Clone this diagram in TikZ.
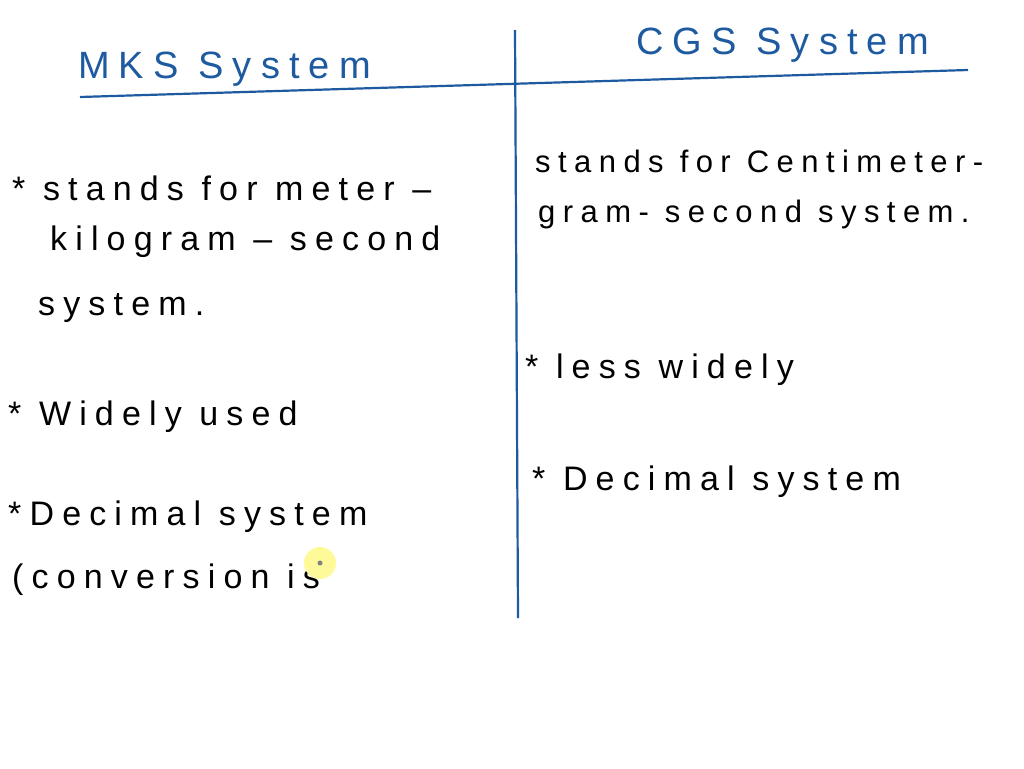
\documentclass[tikz,border=0pt]{standalone}
\usepackage{fontspec}
\setmainfont{Liberation Sans}[LetterSpace=24]
\definecolor{penblue}{RGB}{30,90,160}
\begin{document}
\begin{tikzpicture}[x=1pt,y=-1pt,
  txt/.style={anchor=base west,inner sep=0pt,font=\fontsize{34}{40}\selectfont},
  head/.style={txt,text=penblue,font=\fontsize{38}{44}\selectfont},
  ink/.style={line width=2.2pt,draw=penblue}]
\useasboundingbox (0,0) rectangle (1024,768);
\fill[white] (0,0) rectangle (1024,768);
\coordinate (h1) at (80,97); \coordinate (h2) at (968,70);
\coordinate (v1) at (515,30); \coordinate (v2) at (518,618);
\draw[ink] (h1) -- (h2);
\draw[ink] (v1) -- (v2);
\node[head] (t1) at (78,78) {MKS System};
\node[head] (t2) at (636,55) {CGS System};
\node[txt] (a1) at (12,200) {* stands for meter –};
\node[txt] (a2) at (50,250) {kilogram – second};
\node[txt] (a3) at (38,315) {system.};
\node[txt] (a4) at (8,425) {* Widely used};
\node[txt] (a5) at (8,525) {*Decimal system};
\node[txt] (a6) at (12,588) {(conversion is};
\fill[yellow!40] (320,563) circle (16pt);
\fill[gray] (320,563) circle (2.5pt);
\node[txt,font=\fontsize{31}{38}\selectfont] (b1) at (535,172) {stands for Centimeter-};
\node[txt,font=\fontsize{31}{38}\selectfont] (b2) at (538,222) {gram- second system.};
\node[txt] (b3) at (525,378) {* less widely};
\node[txt] (b4) at (532,490) {* Decimal system};
\end{tikzpicture}
\end{document}
